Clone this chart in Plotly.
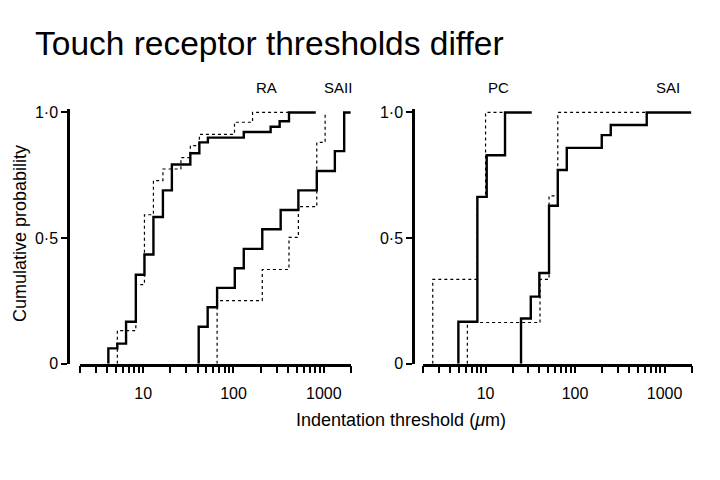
import math
import plotly.graph_objects as go

# ---------------- data (threshold in um, cumulative probability) ----------------
ra_solid_x = [4.12, 4.12, 5.18, 6.47, 8.30, 10.34, 13.0, 16.55, 20.8, 33.3, 41.9, 52.1, 130, 257.8, 324.4, 411.7, 815]
ra_solid_p = [0, 0.061, 0.080, 0.167, 0.354, 0.435, 0.584, 0.69, 0.793, 0.838, 0.881, 0.90, 0.922, 0.943, 0.965, 1.0, 1.0]

ra_dot_x = [5.18, 5.18, 8.30, 10.34, 13.0, 16.55, 26.2, 33.3, 41.9, 102.6, 162.6, 411.7]
ra_dot_p = [0, 0.132, 0.315, 0.593, 0.729, 0.775, 0.82, 0.868, 0.913, 0.961, 1.0, 1.0]

saii_solid_x = [41.2, 41.2, 51.8, 65.9, 103.4, 130, 208.4, 333, 523, 836, 1325, 1681, 1980]
saii_solid_p = [0, 0.147, 0.225, 0.302, 0.38, 0.457, 0.535, 0.612, 0.69, 0.767, 0.846, 1.0, 1.0]

saii_dot_x = [65.9, 65.9, 208.4, 411.7, 523, 836, 1034]
saii_dot_p = [0, 0.251, 0.375, 0.503, 0.625, 0.881, 1.0]

pc_solid_x = [4.97, 4.97, 8.10, 10.3, 16.5, 32.8]
pc_solid_p = [0, 0.167, 0.664, 0.830, 1.0, 1.0]

pc_dot_x = [2.57, 2.57, 8.10, 10.0, 16.5]
pc_dot_p = [0, 0.336, 0.664, 1.0, 1.0]

sai_solid_x = [24.9, 24.9, 32.0, 39.9, 51.2, 64.1, 80.8, 198.7, 250.5, 632, 1990]
sai_solid_p = [0, 0.18, 0.267, 0.361, 0.629, 0.771, 0.859, 0.910, 0.950, 1.0, 1.0]

sai_dot_x = [6.26, 6.26, 40.6, 51.2, 64.1, 632]
sai_dot_p = [0, 0.164, 0.336, 0.668, 1.0, 1.0]

panel_labels = ["RA", "SAII", "PC", "SAI"]
x_tick_vals = [2, 3, 4, 5, 6, 7, 8, 9, 10, 20, 30, 40, 50, 60, 70, 80, 90,
               100, 200, 300, 400, 500, 600, 700, 800, 900, 1000, 2000]
x_tick_labels = {10: "10", 100: "100", 1000: "1000"}
y_tick_vals = [0, 0.5, 1.0]
y_tick_text = ["0", "0·5", "1·0"]

title = "Touch receptor thresholds differ"
x_title = "Indentation threshold (<i>μ</i>m)"
y_title = "Cumulative probability"

# ---------------- figure ----------------
W, H = 720, 480
FONT = "Liberation Sans, Arial, Helvetica, sans-serif"

fig = go.Figure()

def add(x, p, dotted, xa, ya):
    fig.add_trace(go.Scatter(
        x=x, y=p, mode="lines", line_shape="hv",
        line=dict(color="black", width=1.2 if dotted else 2.4,
                  dash="dot" if dotted else "solid"),
        xaxis=xa, yaxis=ya, showlegend=False, hoverinfo="skip"))

add(ra_dot_x, ra_dot_p, True, "x", "y")
add(saii_dot_x, saii_dot_p, True, "x", "y")
add(ra_solid_x, ra_solid_p, False, "x", "y")
add(saii_solid_x, saii_solid_p, False, "x", "y")
add(pc_dot_x, pc_dot_p, True, "x2", "y2")
add(sai_dot_x, sai_dot_p, True, "x2", "y2")
add(pc_solid_x, pc_solid_p, False, "x2", "y2")
add(sai_solid_x, sai_solid_p, False, "x2", "y2")

ydom = [(H - 369.5) / H, (H - 107.6) / H]
ticktext = [x_tick_labels.get(v, "") for v in x_tick_vals]

xcommon = dict(type="log", range=[math.log10(2), math.log10(2000)],
               showgrid=False, zeroline=False, showline=True, linecolor="black",
               linewidth=2.5, ticks="outside", ticklen=7, tickwidth=1.8,
               tickcolor="black", tickvals=x_tick_vals, ticktext=ticktext,
               ticklabelstandoff=6,
               tickfont=dict(family=FONT, size=16, color="black"))
ycommon = dict(range=[0, 1.012], domain=ydom, showgrid=False, zeroline=False,
               showline=True, linecolor="black", linewidth=2.5, ticks="outside",
               ticklen=6, tickwidth=2, tickcolor="black", tickvals=y_tick_vals,
               ticktext=y_tick_text, anchor="free",
               tickfont=dict(family=FONT, size=16, color="black"))

fig.update_layout(
    width=W, height=H, margin=dict(l=0, r=0, t=0, b=0),
    paper_bgcolor="white", plot_bgcolor="white",
    xaxis=dict(xcommon, domain=[80 / W, 351 / W], anchor="y"),
    yaxis=dict(ycommon, position=68 / W),
    xaxis2=dict(xcommon, domain=[423 / W, 691.5 / W], anchor="y2"),
    yaxis2=dict(ycommon, position=413 / W),
)

def ann(text, x, y, size, xanchor="center", angle=0):
    fig.add_annotation(text=text, x=x / W, y=1 - y / H, xref="paper", yref="paper",
                       showarrow=False, xanchor=xanchor, yanchor="middle",
                       textangle=angle,
                       font=dict(family=FONT, size=size, color="black"))

ann(title, 33, 40, 33.5, xanchor="left")
ann(panel_labels[0], 266, 85, 15)
ann(panel_labels[1], 338, 85, 15)
ann(panel_labels[2], 498, 85, 15)
ann(panel_labels[3], 668, 85, 15)
ann(x_title, 401, 427, 18)
ann(y_title, 20, 236, 18, angle=-90)

fig.write_html("out.html")
